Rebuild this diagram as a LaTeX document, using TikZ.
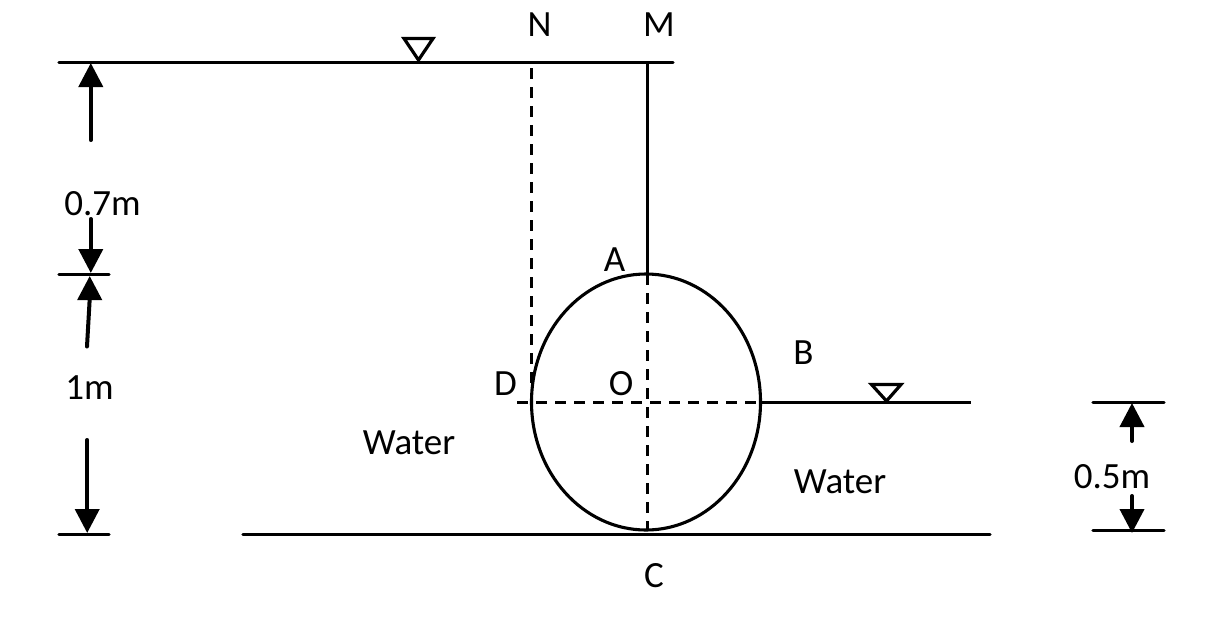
\documentclass[tikz,border=0pt]{standalone}
\usepackage{fontspec}
\setmainfont{Carlito}
\usetikzlibrary{arrows.meta}
\tikzset{
  x=1pt,y=-1pt,
  ln/.style={line width=3.2pt,black},
  lnc/.style={ln,line cap=round},
  stem/.style={line width=3pt,black},
  dashln/.style={line width=3pt,dash pattern=on 11pt off 8pt},
  dimarrow/.style={line width=4pt,line cap=round,line join=round,-{Triangle[length=24pt,width=24pt]}},
  tri/.style={line width=3.2pt,line join=miter},
  lab/.style={inner sep=0pt,font=\fontsize{37}{37}\selectfont,text height=22pt,text depth=0pt}
}
\begin{document}
\begin{tikzpicture}
\useasboundingbox (0,0) rectangle (1209,642);
\coordinate (wl1) at (59,62.4);
\coordinate (wl2) at (673,62.4);
\coordinate (mtop) at (647,62.4);
\coordinate (ntop) at (531,68);
\coordinate (A) at (647,274);
\coordinate (Ct) at (647,529);
\coordinate (O) at (647,402.4);
\coordinate (Dl) at (517,402.4);
\coordinate (Dr) at (760,402.4);
\coordinate (Dc) at (531,385);
\coordinate (bl) at (243,534.3);
\coordinate (br) at (990,534.3);
\coordinate (wr) at (971,402.4);
% main lines
\draw[lnc] (wl1) -- (wl2);
\draw[stem] (mtop) -- (A);
\draw[dashln] (ntop) -- (Dc);
\draw[lnc] (bl) -- (br);
\draw[ln] (Dr) -- (wr);
\draw[line width=3.1pt] (646,402) ellipse [x radius=114.5,y radius=128];
\draw[dashln] (A) -- (Ct);
\draw[dashln] (Dl) -- (Dr);
% water symbols
\draw[tri] (404,38.5) -- (433,38.5) -- (418.5,60) -- cycle;
\draw[tri] (871.5,384.5) -- (901,384.5) -- (886.5,401) -- cycle;
% ticks
\draw[lnc] (59,274.3) -- (109,274.3);
\draw[lnc] (59,534.3) -- (109,534.3);
\draw[lnc] (1093,402.3) -- (1164,402.3);
\draw[lnc] (1093,530.7) -- (1164,530.7);
% dimension arrows
\coordinate (a1s) at (90.8,140);\coordinate (a1e) at (90.8,63);
\coordinate (a2s) at (90.8,219);\coordinate (a2e) at (90.8,273);
\coordinate (a3s) at (87,346.5);\coordinate (a3m) at (89.7,299);\coordinate (a3e) at (89.7,276);
\coordinate (a4s) at (87.2,440);\coordinate (a4e) at (87.2,533);
\coordinate (a5s) at (1132,441);\coordinate (a5e) at (1132,403);
\coordinate (a6s) at (1132,496);\coordinate (a6e) at (1132,533);
\foreach \s/\e in {a1s/a1e,a2s/a2e,a4s/a4e,a5s/a5e,a6s/a6e}
  \draw[dimarrow] (\s) -- (\e);
\draw[dimarrow] (a3s) -- (a3m) -- (a3e);
% labels
\node[lab] (N) at (539.5,26) {N};
\node[lab] (M) at (659,26) {M};
\node[lab] (LA) at (614.5,260) {A};
\node[lab] (LB) at (803.5,353.5) {B};
\node[lab] (LD) at (505.5,384) {D};
\node[lab] (LO) at (621,384.5) {O};
\node[lab] (LC) at (654,576) {C};
\node[lab] (W1) at (409,443) {Water};
\node[lab] (W2) at (840,482) {Water};
\node[lab] (d1) at (102.5,204) {0.7m};
\node[lab] (d2) at (89.5,388) {1m};
\node[lab] (d3) at (1112,477.5) {0.5m};
\end{tikzpicture}
\end{document}
